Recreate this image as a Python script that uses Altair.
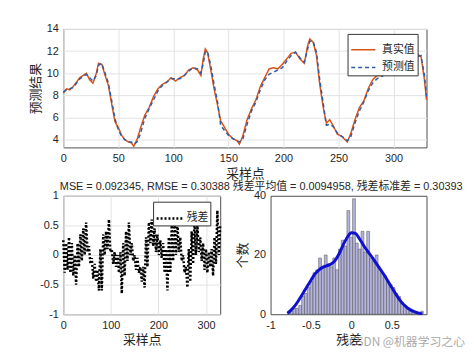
import altair as alt
import pandas as pd

# ---------------- data ----------------
sample_idx = [0, 3, 6, 9, 12, 15, 18, 21, 24, 27, 30, 32, 35, 38, 41, 44, 47, 50, 53, 56,
              59, 62, 64, 67, 70, 74, 78, 82, 86, 90, 94, 98, 102, 106, 110, 114, 118, 122, 125, 127,
              129, 131, 134, 137, 140, 143, 146, 150, 154, 158, 160, 163, 167, 171, 175, 179, 183, 187, 191, 195,
              199, 203, 207, 211, 215, 219, 222, 224, 227, 230, 233, 236, 239, 242, 245, 249, 253, 256, 258, 261,
              265, 269, 273, 277, 281, 285, 289, 293, 297, 301, 305, 309, 313, 316, 319, 322, 325, 328, 330]
real_vals = [8.2, 8.6, 8.5, 8.8, 9.2, 9.6, 9.8, 10.0, 9.4, 9.1, 10.0, 10.9, 10.8, 9.8, 8.9, 7.2, 5.6, 5.1, 4.4, 4.0,
             3.8, 3.7, 3.4, 4.0, 5.0, 6.2, 6.9, 7.9, 8.6, 9.0, 9.2, 9.6, 9.3, 9.6, 9.8, 10.3, 10.5, 10.3, 9.8, 11.2,
             12.2, 11.9, 10.3, 8.6, 7.2, 5.7, 5.2, 4.5, 4.1, 3.9, 3.6, 4.3, 5.8, 6.8, 7.6, 8.8, 9.6, 10.4, 10.5, 10.4,
             10.8, 11.3, 11.8, 11.9, 11.3, 10.9, 12.5, 13.1, 12.8, 11.6, 9.0, 7.0, 5.5, 5.8, 5.3, 4.5, 4.3, 4.0, 3.8, 4.5,
             5.8, 6.9, 7.5, 8.6, 9.4, 9.8, 9.8, 10.0, 10.1, 10.3, 10.8, 11.0, 10.5, 10.1, 10.9, 11.7, 11.5, 9.5, 7.6]
pred_vals = [8.3, 8.5, 8.6, 8.7, 9.1, 9.5, 9.7, 9.9, 9.6, 9.3, 9.8, 10.7, 10.9, 10.0, 9.1, 7.5, 5.9, 4.9, 4.3, 4.0,
             3.8, 3.8, 3.6, 3.8, 4.5, 5.9, 6.8, 7.6, 8.4, 8.9, 9.2, 9.5, 9.5, 9.5, 9.8, 10.2, 10.5, 10.4, 10.0, 10.8,
             11.9, 12.0, 10.7, 9.0, 7.5, 5.3, 4.9, 4.4, 4.1, 3.9, 3.8, 4.0, 5.4, 6.6, 7.4, 8.5, 9.4, 9.9, 10.1, 10.3,
             10.5, 11.1, 11.6, 11.9, 11.4, 11.0, 12.2, 12.9, 12.9, 11.9, 9.4, 7.4, 5.3, 5.4, 5.2, 4.6, 4.3, 4.1, 3.9, 4.2,
             5.5, 6.6, 7.4, 8.4, 9.1, 9.5, 9.7, 9.9, 10.0, 10.2, 10.6, 11.0, 10.7, 10.2, 10.6, 11.5, 11.6, 9.9, 7.9]

resid_idx = list(range(0, 331, 3))
resid_vals = [0.25, -0.30, 0.20, -0.25, 0.30, -0.30, 0.20, -0.35, 0.00, -0.50,
              0.20, -0.20, 0.35, -0.10, 0.45, 0.00, 0.55, 0.05, 0.15, -0.15,
              -0.05, -0.40, -0.15, -0.45, -0.25, -0.60, 0.10, -0.60, 0.35, 0.00,
              0.40, 0.10, 0.60, 0.05, 0.10, -0.15, 0.05, -0.20, 0.00, -0.30,
              0.05, -0.65, 0.20, -0.35, 0.40, -0.10, 0.55, 0.00, 0.20, -0.10,
              0.00, -0.25, -0.05, -0.30, -0.20, -0.45, -0.20, -0.55, 0.30, -0.20,
              0.55, 0.20, 0.60, 0.15, 0.45, 0.05, 0.35, 0.00, 0.25, -0.05,
              0.20, -0.30, 0.10, -0.60, 0.30, -0.30, 0.50, -0.10, 0.60, 0.00,
              0.55, 0.05, 0.30, -0.10, 0.00, -0.30, -0.20, -0.55, 0.10, -0.45,
              0.40, -0.15, 0.60, 0.00, 0.50, 0.05, 0.30, -0.10, 0.20, -0.25,
              0.10, -0.30, 0.05, -0.20, 0.10, -0.35, 0.30, -0.15, 0.75, 0.00,
              0.50]

BIN_W = 0.035
hist_centers = [-0.7725 + BIN_W * i for i in range(48)]
hist_counts = [1, 1, 2, 2, 3, 6, 7, 9, 11, 14,
               15, 19, 16, 20, 17, 16, 19, 15, 22, 25,
               23, 35, 26, 39, 24, 22, 28, 21, 28, 19,
               18, 20, 15, 14, 13, 11, 10, 9, 7, 6,
               4, 3, 2, 1, 1, 1, 0, 1]

kde_x = [-0.79, -0.75, -0.7, -0.65, -0.6, -0.55, -0.5, -0.45, -0.4, -0.35, -0.3, -0.25, -0.2, -0.15, -0.1,
         -0.05, 0.0, 0.05, 0.1, 0.15, 0.2, 0.25, 0.3, 0.35, 0.4, 0.45, 0.5, 0.55, 0.6, 0.65, 0.7, 0.75,
         0.8, 0.85, 0.88]
kde_y = [0.3, 1.3, 2.8, 4.8, 7.0, 9.3, 11.5, 13.6, 15.0, 15.9, 16.4, 17.0, 18.2, 20.5, 23.5,
         26.0, 27.5, 27.3, 25.5, 23.3, 21.3, 19.5, 17.5, 15.5, 13.5, 11.3, 9.0, 6.8, 4.8, 3.2, 2.0, 1.2,
         0.6, 0.3, 0.2]

series_names = ["真实值", "预测值"]
title_text = "MSE = 0.092345, RMSE = 0.30388 残差平均值 = 0.0094958, 残差标准差 = 0.30393"
watermark = "CSDN @机器学习之心"

FONT = "Liberation Sans, Arial, Noto Sans CJK SC"
CJK = "Noto Sans CJK SC"
TXT = "#262626"

# ---------------- top panel ----------------
n = len(sample_idx)
top_df = pd.DataFrame({
    "采样点": sample_idx * 2,
    "值": real_vals + pred_vals,
    "类型": [series_names[0]] * n + [series_names[1]] * n,
})

top_legend = alt.Legend(title=None, orient="none", legendX=288, legendY=5,
                        strokeColor="#333333", fillColor="white", padding=3,
                        labelFont=CJK, labelFontSize=11, labelColor=TXT,
                        symbolType="stroke", symbolSize=600, symbolStrokeWidth=1.5,
                        rowPadding=0, labelOffset=6)

top = alt.Chart(top_df).mark_line(strokeWidth=1.5).encode(
    x=alt.X("采样点:Q", scale=alt.Scale(domain=[0, 330], nice=False),
            axis=alt.Axis(values=[0, 50, 100, 150, 200, 250, 300], title="采样点", grid=True)),
    y=alt.Y("值:Q", scale=alt.Scale(domain=[3.3, 14], nice=False, zero=False),
            axis=alt.Axis(values=[4, 6, 8, 10, 12, 14], title="预测结果", grid=True)),
    color=alt.Color("类型:N", scale=alt.Scale(domain=series_names, range=["#D95319", "#2F5DAA"]),
                    legend=top_legend),
    strokeDash=alt.StrokeDash("类型:N", scale=alt.Scale(domain=series_names, range=[[1, 0], [4, 3]]),
                              legend=top_legend),
).properties(width=368, height=120)

# ---------------- bottom-left: residual ----------------
res_df = pd.DataFrame({"采样点": resid_idx, "残差": resid_vals, "系列": ["残差"] * len(resid_idx)})

res_line = alt.Chart(res_df).mark_line(strokeWidth=2.5, strokeDash=[2, 2]).encode(
    x=alt.X("采样点:Q", scale=alt.Scale(domain=[0, 330], nice=False),
            axis=alt.Axis(values=[0, 100, 200, 300], title="采样点", grid=True)),
    y=alt.Y("残差:Q", scale=alt.Scale(domain=[-1, 1], nice=False),
            axis=alt.Axis(values=[-1, -0.5, 0, 0.5, 1], title=None, grid=True,
                          labelExpr="'' + datum.value")),
    color=alt.Color("系列:N", scale=alt.Scale(domain=["残差"], range=["black"]),
                    legend=alt.Legend(title=None, orient="none", legendX=91, legendY=6,
                                      strokeColor="#333333", fillColor="white", padding=2,
                                      labelFont=CJK, labelFontSize=11, labelColor=TXT,
                                      symbolType="stroke", symbolSize=720, symbolStrokeWidth=2.5,
                                      symbolDash=[2, 2], labelOffset=2)),
)

title_df = pd.DataFrame({"t": [title_text]})
title_mark = alt.Chart(title_df).mark_text(font=FONT, fontSize=11, color=TXT, baseline="middle",
                                           align="center").encode(
    text="t:N", x=alt.value(200.5), y=alt.value(-9))

bl = alt.layer(res_line, title_mark).properties(width=159, height=120)

# ---------------- bottom-right: histogram ----------------
hist_df = pd.DataFrame({"center": hist_centers, "count": hist_counts})
kde_df = pd.DataFrame({"x": kde_x, "y": kde_y})

xh = alt.Scale(domain=[-1, 0.93], nice=False)
yh = alt.Scale(domain=[0, 40], nice=False)

bars = alt.Chart(hist_df).transform_calculate(
    lo=f"datum.center - {BIN_W / 2}", hi=f"datum.center + {BIN_W / 2}", base="0"
).mark_rect(fill="#B3B3DB", stroke="#4d4d4d", strokeWidth=0.5).encode(
    x=alt.X("lo:Q", scale=xh, axis=alt.Axis(values=[-1, -0.5, 0, 0.5], title="残差", grid=False,
                                            labelExpr="'' + datum.value")),
    x2="hi:Q",
    y=alt.Y("count:Q", scale=yh, axis=alt.Axis(values=[0, 10, 20, 30, 40], title="个数", grid=False)),
    y2="base:Q",
)

kde = alt.Chart(kde_df).mark_line(color="#1010D0", strokeWidth=3, interpolate="monotone").encode(
    x=alt.X("x:Q", scale=xh), y=alt.Y("y:Q", scale=yh))

wm_df = pd.DataFrame({"t": [watermark]})
wm = alt.Chart(wm_df).mark_text(font=CJK, fontSize=12, color="#AAAAAA", align="right",
                                baseline="middle").encode(
    text="t:N", x=alt.value(197), y=alt.value(148))

br = alt.layer(bars, kde, wm).properties(width=158, height=120)

# ---------------- compose ----------------
bottom = alt.hconcat(bl, br, spacing=51, bounds="flush").resolve_scale(
    color="independent", strokeDash="independent").resolve_legend(
    color="independent", strokeDash="independent")

chart = alt.vconcat(top, bottom, spacing=49, bounds="flush").resolve_scale(
    color="independent", strokeDash="independent").resolve_legend(
    color="independent", strokeDash="independent").properties(
    padding={"left": 21, "top": 12, "right": 0, "bottom": 0}
).configure_view(stroke="#4d4d4d", strokeWidth=1).configure_axis(
    labelFont=FONT, labelFontSize=11, labelColor=TXT, labelPadding=5, labelFlush=False,
    titleFont=CJK, titleFontSize=13, titleFontWeight="normal", titleColor=TXT, titlePadding=4,
    domain=False, ticks=False, gridColor="#E3E3E3", gridWidth=1
)

chart.save("out.html", embed_options={"renderer": "svg", "actions": False})
